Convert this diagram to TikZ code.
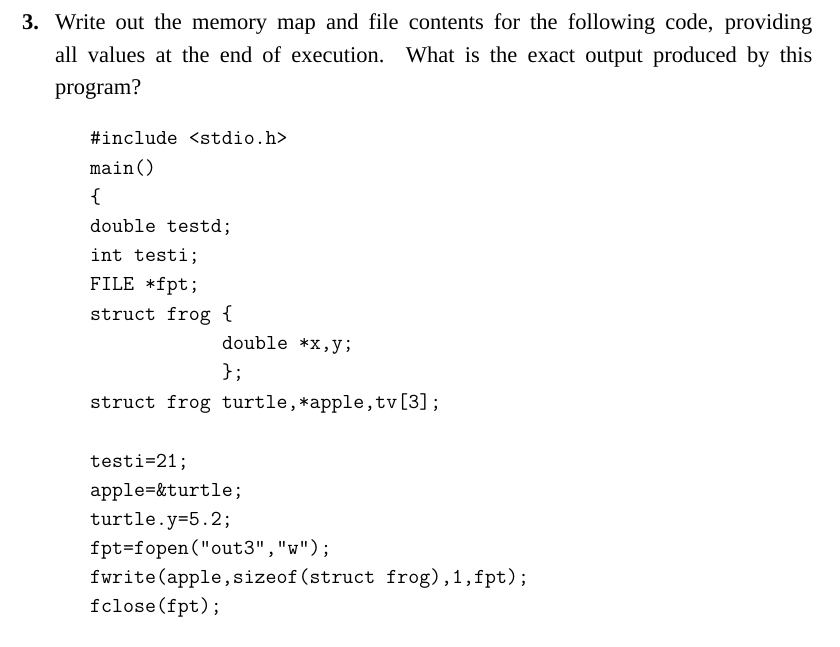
\documentclass[tikz,border=0pt]{standalone}
\usepackage{fontspec}
\setmainfont{Liberation Serif}
\setmonofont{Latin Modern Mono}
\begin{document}
\begin{tikzpicture}[x=1pt,y=1pt,
  code/.style={anchor=base west,inner sep=0pt,font=\fontsize{21.3}{24}\ttfamily},
  qtext/.style={anchor=base west,inner sep=0pt,font=\fontsize{22.5}{26}\selectfont}]
\useasboundingbox (0,0) rectangle (840,-646);
\fill[white] (0,0) rectangle (840,-646);
\node[qtext] (n) at (22,-29) {\textbf{3.}};
\node[qtext] (q1) at (55,-29) {\makebox[757pt][s]{Write out the memory map and file contents for the following code, providing}};
\node[qtext] (q2) at (55,-62) {\makebox[757pt][s]{all values at the end of execution. What is the exact output produced by this}};
\node[qtext] (q3) at (55,-94) {program?};
\node[code] (l1) at (90,-144) {\#include <stdio.h>};
\node[code] (l2) at (90,-174) {main()};
\node[code] (l3) at (90,-203) {\{};
\node[code] (l4) at (90,-232) {double testd;};
\node[code] (l5) at (90,-261) {int testi;};
\node[code] (l6) at (90,-290) {FILE *fpt;};
\node[code] (l7) at (90,-320) {struct frog \{};
\node[code] (l8) at (222,-349) {double *x,y;};
\node[code] (l9) at (222,-378) {\};};
\node[code] (l10) at (90,-408) {struct frog turtle,*apple,tv[3];};
\node[code] (l11) at (90,-467) {testi=21;};
\node[code] (l12) at (90,-496) {apple=\&turtle;};
\node[code] (l13) at (90,-525) {turtle.y=5.2;};
\node[code] (l14) at (90,-554) {fpt=fopen("out3","w");};
\node[code] (l15) at (90,-583) {fwrite(apple,sizeof(struct frog),1,fpt);};
\node[code] (l16) at (90,-612) {fclose(fpt);};
\end{tikzpicture}
\end{document}
